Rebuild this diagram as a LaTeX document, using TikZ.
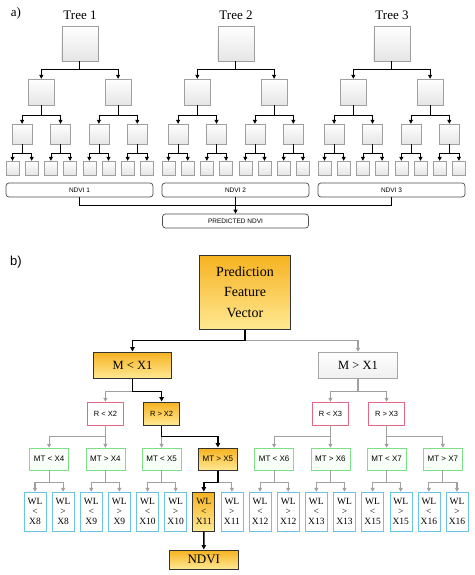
\documentclass[tikz,border=0pt]{standalone}
\usepackage{fontspec}
\setmainfont{Liberation Serif}
\setsansfont{Liberation Sans}
\usepackage{tikz}
\usetikzlibrary{arrows.meta}
\definecolor{orangetop}{RGB}{246,178,32}
\definecolor{orangebot}{RGB}{255,232,146}
\definecolor{pinkline}{RGB}{226,104,134}
\definecolor{greenline}{RGB}{124,224,134}
\definecolor{blueline}{RGB}{108,196,228}
\definecolor{linkgray}{RGB}{160,160,160}

\begin{document}
\begin{tikzpicture}[x=1pt,y=-1pt,
  treebox/.style={draw=gray!75,top color=white,bottom color=gray!20,inner sep=0pt},
  tarrow/.style={-{Triangle[length=4pt,width=4pt]},line width=0.8pt},
  sumbox/.style={draw=gray!60!black,line width=0.7pt,rounded corners=3pt,minimum width=147,minimum height=14,inner sep=0pt,font=\sffamily\fontsize{6.5}{6.5}\selectfont},
  gold/.style={draw=black!80,line width=1pt,top color=orangetop,bottom color=orangebot,inner sep=0pt},
  plain/.style={draw=gray!70,top color=white,bottom color=gray!12,inner sep=0pt},
  rbox/.style={draw=pinkline,fill=white,minimum width=36,minimum height=23,inner sep=0pt,font=\sffamily\fontsize{7.5}{8}\selectfont},
  goldr/.style={rbox,gold},
  mtbox/.style={draw=greenline,top color=white,bottom color=green!4,minimum width=39,minimum height=22,inner sep=0pt,font=\sffamily\fontsize{8}{8}\selectfont},
  goldmt/.style={mtbox,gold},
  wlbox/.style={draw=blueline,fill=white,minimum width=22,minimum height=39,inner sep=0pt,align=center,font=\fontsize{9.5}{10}\selectfont},
  goldwl/.style={wlbox,gold},
  glink/.style={draw=linkgray,line width=1.1pt,-{Triangle[length=4pt,width=4pt]}},
  blink/.style={draw=black,line width=1.4pt,-{Triangle[length=4.5pt,width=4.5pt]}}]

  \useasboundingbox (0,0) rectangle (474,575);

  \node[font=\fontsize{13}{13}\selectfont] (alabel) at (16,13) {a)};
  \foreach \tr/\dx in {1/0,2/156,3/312}{
   \begin{scope}[xshift=\dx pt]
    \node[font=\fontsize{13}{13}\selectfont] (tree\tr) at (80,15) {Tree \tr};
    \node[treebox,minimum width=36,minimum height=35] (r\tr) at (79.7,43.5) {};
    \node[treebox,minimum size=26] (p\tr1) at (41.3,92) {};
    \node[treebox,minimum size=26] (p\tr2) at (118.1,92) {};
    \foreach \i/\x in {1/22.1,2/60.5,3/98.9,4/137.3}
      \node[treebox,minimum size=20] (q\tr\i) at (\x,134) {};
    \foreach \i in {1,...,8}
      \node[treebox,minimum width=13,minimum height=14] (l\tr\i) at (12.5+19.2*\i-19.2,168) {};
    \draw[tarrow] (r\tr.south) -- ++(0,8) -| (p\tr1.north);
    \draw[tarrow] (r\tr.south) -- ++(0,8) -| (p\tr2.north);
    \foreach \i/\j in {1/1,2/1,3/2,4/2}
      \draw[tarrow] (p\tr\j.south) -- ++(0,10) -| (q\tr\i.north);
    \foreach \i/\j in {1/1,2/1,3/2,4/2,5/3,6/3,7/4,8/4}
      \draw[tarrow] (q\tr\j.south) -- ++(0,9) -| (l\tr\i.north);
    \node[sumbox] (n\tr) at (79.5,190) {NDVI \tr};
   \end{scope}}
  \node[sumbox,minimum width=146] (pred) at (235.5,221) {PREDICTED NDVI};
  \draw[line width=0.8pt] (n1.south) -- ++(0,8) -| (n3.south);
  \draw[tarrow] (n2.south) -- (pred.north);

  \node[font=\sffamily\fontsize{13}{13}\selectfont] (blabel) at (16,262) {b)};
  \node[gold,minimum width=91,minimum height=74,align=center,font=\fontsize{14}{20.5}\selectfont] (pfv) at (245,292) {Prediction\\Feature\\Vector};
  \node[gold,minimum width=78,minimum height=26,font=\fontsize{12.5}{13}\selectfont] (ml) at (132.5,365) {M < X1};
  \node[plain,minimum width=79,minimum height=26,font=\fontsize{12.5}{13}\selectfont] (mr) at (358,365) {M > X1};
  \node[rbox] (r2l) at (105.4,413.5) {R < X2};
  \node[goldr] (r2r) at (161.6,413.5) {R > X2};
  \node[rbox] (r3l) at (330.4,413.5) {R < X3};
  \node[rbox] (r3r) at (386.6,413.5) {R > X3};
  \foreach \j/\n/\st in {0/4/mtbox,1/5/goldmt,2/6/mtbox,3/7/mtbox}{
    \node[mtbox] (ma\n) at (49.1+112.5*\j,459) {MT < X\n};
    \node[\st] (mb\n) at (105.4+112.5*\j,459) {MT > X\n};
  }
  \foreach \j/\n/\st in {0/8/wlbox,1/9/wlbox,2/10/wlbox,3/11/goldwl,4/12/wlbox,5/13/wlbox,6/15/wlbox,7/16/wlbox}{
    \node[\st] (wa\n) at (35+56.27*\j,511.5) {WL\\<\\X\n};
    \node[wlbox] (wb\n) at (63.1+56.27*\j,511.5) {WL\\>\\X\n};
  }
  \node[gold,minimum width=69,minimum height=19,font=\fontsize{13}{13}\selectfont] (ndvi) at (203.8,559.5) {NDVI};

  \draw[glink] (pfv.south) -- ++(0,11) -| (mr.north);
  \draw[glink] (ml.south) -- ++(0,13) -| (r2l.north);
  \draw[glink] (mr.south) -- ++(0,13) -| (r3l.north);
  \draw[glink] (mr.south) -- ++(0,13) -| (r3r.north);
  \draw[glink] (r2l.south) -- ++(0,11) -| (ma4.north);
  \draw[glink] (r2l.south) -- (mb4.north);
  \draw[glink] (r2r.south) -- (ma5.north);
  \draw[glink] (r3l.south) -- ++(0,11) -| (ma6.north);
  \draw[glink] (r3l.south) -- (mb6.north);
  \draw[glink] (r3r.south) -- (ma7.north);
  \draw[glink] (r3r.south) -- ++(0,11) -| (mb7.north);
  \foreach \m/\n in {ma4/8,mb4/9,ma5/10,mb5/11,ma6/12,mb6/13,ma7/15,mb7/16}{
    \draw[glink] (\m.south) -- ++(0,12) -| (wa\n.north);
    \draw[glink] (\m.south) -- ++(0,12) -| (wb\n.north);
  }
  \draw[blink] (pfv.south) -- ++(0,11) -| (ml.north);
  \draw[blink] (ml.south) -- ++(0,13) -| (r2r.north);
  \draw[blink] (r2r.south) -- ++(0,11) -| (mb5.north);
  \draw[blink] (mb5.south) -- ++(0,12) -| (wa11.north);
  \draw[blink] (wa11.south) -- (ndvi.north);
\end{tikzpicture}
\end{document}
